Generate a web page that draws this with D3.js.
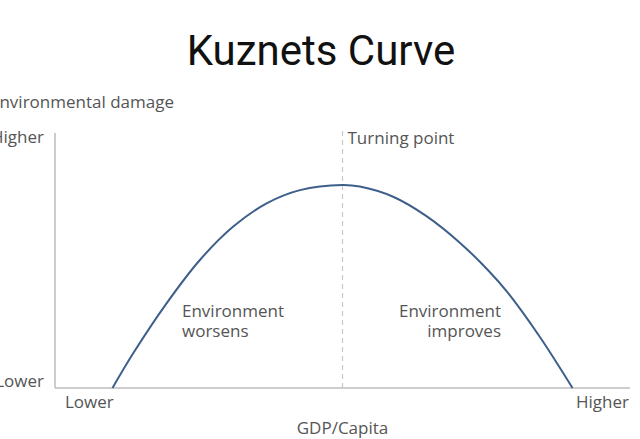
<!DOCTYPE html>
<html>
<head>
<meta charset="utf-8">
<script src="https://cdn.jsdelivr.net/npm/d3@7"></script>
<style>
  body { margin: 0; background: #fff; }
  .label { font-family: "Open Sans", sans-serif; font-size: 17px; fill: #555; }
  .title { font-family: Roboto, sans-serif; font-size: 42px; fill: #111; }
</style>
</head>
<body>
<div id="chart"></div>
<script>
const FRAME_WIDTH = 640;
const FRAME_HEIGHT = 439;
const MARGINS = {left: 55, right: 10, top: 133, bottom: 51};

// curve (GDP 0..100, damage 0..100)
const gdp =    [10, 13.6, 19.4, 25.2, 31, 36.8, 42.6, 50, 53, 58.8, 64.6, 70.4, 75.4, 78.6, 84.3, 90];
const damage = [0, 13.6, 33.2, 50.2, 63.3, 72.4, 77.6, 79.6, 79.0, 75.0, 67.4, 57.0, 46.0, 37.8, 20.1, 0];
const turningPoint = 50;
const tickLabels = ["Lower", "Higher"];

const X_SCALE = d3.scaleLinear()
                  .domain([0, 100])
                  .range([MARGINS.left, FRAME_WIDTH - MARGINS.right]);
const Y_SCALE = d3.scaleLinear()
                  .domain([0, 100])
                  .range([FRAME_HEIGHT - MARGINS.bottom, MARGINS.top]);

const svg = d3.select("#chart")
              .append("svg")
                .attr("width", FRAME_WIDTH)
                .attr("height", FRAME_HEIGHT);

svg.append("text")
   .attr("class", "title")
   .attr("x", 321)
   .attr("y", 65)
   .attr("text-anchor", "middle")
   .text("Kuznets Curve");

// axes
const x0 = X_SCALE(0), y0 = Y_SCALE(0);
svg.append("line")
   .attr("x1", x0).attr("x2", X_SCALE(100))
   .attr("y1", y0).attr("y2", y0)
   .attr("stroke", "#bcbcbc").attr("stroke-width", 1.5);
svg.append("line")
   .attr("x1", x0).attr("x2", x0)
   .attr("y1", y0).attr("y2", Y_SCALE(100))
   .attr("stroke", "#bcbcbc").attr("stroke-width", 1.5);

// turning point
svg.append("line")
   .attr("x1", X_SCALE(turningPoint)).attr("x2", X_SCALE(turningPoint))
   .attr("y1", y0).attr("y2", Y_SCALE(101))
   .attr("stroke", "#c8c8c8").attr("stroke-width", 1.2)
   .attr("stroke-dasharray", "5,4");

const line = d3.line()
               .x((d, i) => X_SCALE(gdp[i]))
               .y((d) => Y_SCALE(d))
               .curve(d3.curveCatmullRom.alpha(0.5));

svg.append("path")
   .datum(damage)
   .attr("d", line)
   .attr("fill", "none")
   .attr("stroke", "#3d5f8a")
   .attr("stroke-width", 2);

// labels
function label(x, y, txt, anchor) {
  svg.append("text")
     .attr("class", "label")
     .attr("x", x).attr("y", y)
     .attr("text-anchor", anchor || "start")
     .text(txt);
}
label(-10, 108, "Environmental damage");
label(44, 143, tickLabels[1], "end");
label(44, 387, tickLabels[0], "end");
label(65, 408, tickLabels[0]);
label(629, 408, tickLabels[1], "end");
label(X_SCALE(turningPoint), 434, "GDP/Capita", "middle");
label(X_SCALE(turningPoint) + 5, 144, "Turning point");
label(182, 317, "Environment");
label(182, 337, "worsens");
label(501, 317, "Environment", "end");
label(501, 337, "improves", "end");
</script>
</body>
</html>
